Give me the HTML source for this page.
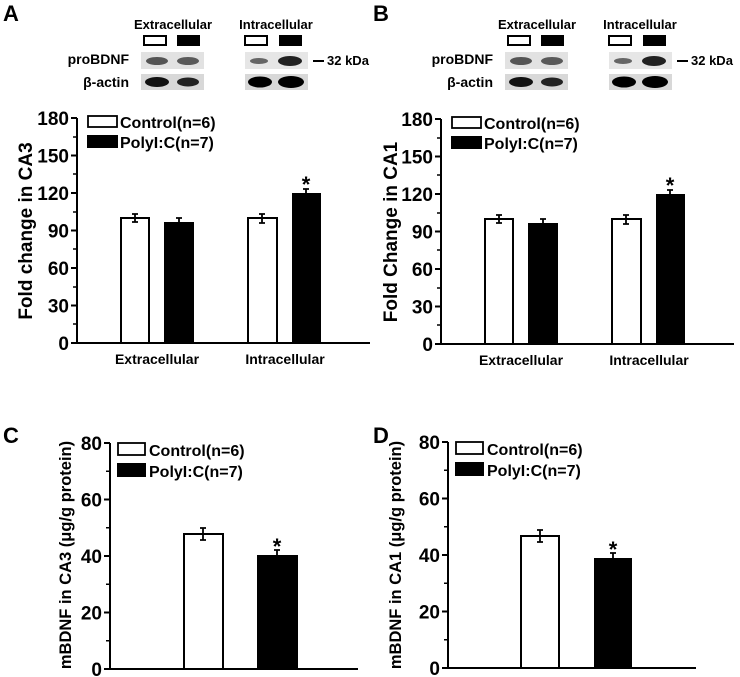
<!DOCTYPE html>
<html><head><meta charset="utf-8"><style>
html,body{margin:0;padding:0;background:#fff}
svg{display:block;font-family:"Liberation Sans",Arial,sans-serif;font-weight:bold}
</style></head><body>
<svg width="740" height="677" viewBox="0 0 740 677" xmlns="http://www.w3.org/2000/svg">
<defs>
<g id="blots">
  <text x="173" y="29" font-size="13" text-anchor="middle">Extracellular</text>
  <text x="276" y="29" font-size="13" text-anchor="middle">Intracellular</text>
  <rect x="144" y="36" width="22" height="9" fill="#fff" stroke="#000" stroke-width="2"/>
  <rect x="177" y="35" width="23" height="11" fill="#000"/>
  <rect x="245" y="36" width="22" height="9" fill="#fff" stroke="#000" stroke-width="2"/>
  <rect x="279" y="35" width="23" height="11" fill="#000"/>
  <text x="129" y="64" font-size="14" text-anchor="end">proBDNF</text>
  <text x="129" y="87" font-size="14" text-anchor="end">β-actin</text>
  <rect x="141" y="52" width="63" height="17" fill="#e2e2e2"/>
  <rect x="245" y="52" width="63" height="17" fill="#e6e6e6"/>
  <rect x="141" y="74" width="63" height="16" fill="#d8d8d8"/>
  <rect x="245" y="74" width="63" height="16" fill="#d8d8d8"/>
  <ellipse cx="157" cy="61" rx="11" ry="4" fill="#555"/>
  <ellipse cx="188" cy="61" rx="11" ry="4" fill="#5a5a5a"/>
  <ellipse cx="259" cy="61" rx="9" ry="3" fill="#666"/>
  <ellipse cx="290" cy="61" rx="12" ry="5" fill="#222"/>
  <ellipse cx="157" cy="82" rx="12" ry="5" fill="#111"/>
  <ellipse cx="188" cy="82" rx="11" ry="4.5" fill="#222"/>
  <ellipse cx="260" cy="82" rx="12" ry="5.5" fill="#000"/>
  <ellipse cx="291" cy="82" rx="13" ry="6" fill="#000"/>
  <line x1="313" y1="61" x2="324" y2="61" stroke="#000" stroke-width="2"/>
  <text x="327" y="65" font-size="13">32 kDa</text>
</g>
<g id="axAB" stroke="#000" stroke-width="2" fill="none">
  <line x1="77" y1="118" x2="77" y2="344"/>
  <line x1="76" y1="343" x2="370" y2="343"/>
  <path d="M71 343H77M71 305.5H77M71 268H77M71 230.5H77M71 193H77M71 155.5H77M71 118H77" />
  <path d="M73 324H77M73 287H77M73 249H77M73 212H77M73 174H77M73 137H77" stroke-width="1.5"/>
</g>
<g id="tlAB" font-size="19" text-anchor="end">
  <text x="69" y="350">0</text><text x="69" y="312.5">30</text><text x="69" y="275">60</text>
  <text x="69" y="237.5">90</text><text x="69" y="200">120</text><text x="69" y="162.5">150</text><text x="69" y="125">180</text>
</g>
<g id="barsAB">
  <rect x="121" y="218" width="28" height="125" fill="#fff" stroke="#000" stroke-width="2"/>
  <rect x="164" y="222" width="30" height="121" fill="#000"/>
  <rect x="248" y="218" width="29" height="125" fill="#fff" stroke="#000" stroke-width="2"/>
  <rect x="292" y="193" width="29" height="150" fill="#000"/>
  <g stroke="#000" stroke-width="1.8">
    <path d="M135 214V222M132 214H138M132 222H138"/>
    <path d="M179 218V226M176 218H182"/>
    <path d="M262 214V223M259 214H265M259 223H265"/>
    <path d="M306 189V193M303 189H309"/>
  </g>
  <text x="306" y="192" font-size="22" text-anchor="middle">*</text>
  <text x="157" y="364" font-size="14" text-anchor="middle">Extracellular</text>
  <text x="285" y="364" font-size="14" text-anchor="middle">Intracellular</text>
  <rect x="88" y="116" width="29" height="11" fill="#fff" stroke="#000" stroke-width="1.8"/>
  <rect x="87" y="135" width="31" height="13" fill="#000"/>
  <text x="120" y="128" font-size="16">Control(n=6)</text>
  <text x="120" y="148" font-size="16">PolyI:C(n=7)</text>
</g>
<g id="axCD" stroke="#000" stroke-width="2" fill="none">
  <line x1="110" y1="443" x2="110" y2="670"/>
  <line x1="109" y1="669" x2="358" y2="669"/>
  <path d="M104 669H110M104 612.5H110M104 556H110M104 499.5H110M104 443H110"/>
  <path d="M106 640.75H110M106 584.25H110M106 527.75H110M106 471.25H110" stroke-width="1.5"/>
</g>
<g id="tlCD" font-size="19" text-anchor="end">
  <text x="102" y="676">0</text><text x="102" y="619.5">20</text><text x="102" y="563">40</text>
  <text x="102" y="506.5">60</text><text x="102" y="450">80</text>
</g>
<g id="legCD">
  <rect x="118" y="443" width="27" height="12" fill="#fff" stroke="#000" stroke-width="1.8"/>
  <rect x="117" y="463" width="29" height="14" fill="#000"/>
  <text x="149" y="456" font-size="16">Control(n=6)</text>
  <text x="149" y="477" font-size="16">PolyI:C(n=7)</text>
</g>
</defs>

<text x="3" y="21" font-size="22">A</text>
<use href="#blots"/>
<use href="#axAB"/><use href="#tlAB"/><use href="#barsAB"/>
<text transform="translate(32,231) rotate(-90)" font-size="19" text-anchor="middle">Fold change in CA3</text>

<text x="373" y="21" font-size="22">B</text>
<g transform="translate(364,0)"><use href="#blots"/></g>
<g transform="translate(364,1)"><use href="#axAB"/><use href="#tlAB"/><use href="#barsAB"/></g>
<text transform="translate(397,232) rotate(-90)" font-size="19" text-anchor="middle">Fold Change in CA1</text>

<text x="3" y="443" font-size="22">C</text>
<use href="#axCD"/><use href="#tlCD"/><use href="#legCD"/>
<rect x="184" y="534" width="39" height="135" fill="#fff" stroke="#000" stroke-width="2"/>
<rect x="257" y="555" width="41" height="114" fill="#000"/>
<g stroke="#000" stroke-width="1.8"><path d="M203 528V540M200 528H206M200 540H206"/><path d="M277 550V555M274 550H280"/></g>
<text x="277" y="554" font-size="22" text-anchor="middle">*</text>
<text transform="translate(71,555) rotate(-90)" font-size="16.5" text-anchor="middle">mBDNF in CA3 (μg/g protein)</text>

<text x="373" y="443" font-size="22">D</text>
<g transform="translate(338,-1)"><use href="#axCD"/><use href="#tlCD"/><use href="#legCD"/></g>
<rect x="521" y="536" width="38" height="132" fill="#fff" stroke="#000" stroke-width="2"/>
<rect x="594" y="558" width="38" height="110" fill="#000"/>
<g stroke="#000" stroke-width="1.8"><path d="M540 530V542M537 530H543M537 542H543"/><path d="M613 553V558M610 553H616"/></g>
<text x="613" y="557" font-size="22" text-anchor="middle">*</text>
<text transform="translate(401,555) rotate(-90)" font-size="16.5" text-anchor="middle">mBDNF in CA1 (μg/g protein)</text>
</svg>
</body></html>
